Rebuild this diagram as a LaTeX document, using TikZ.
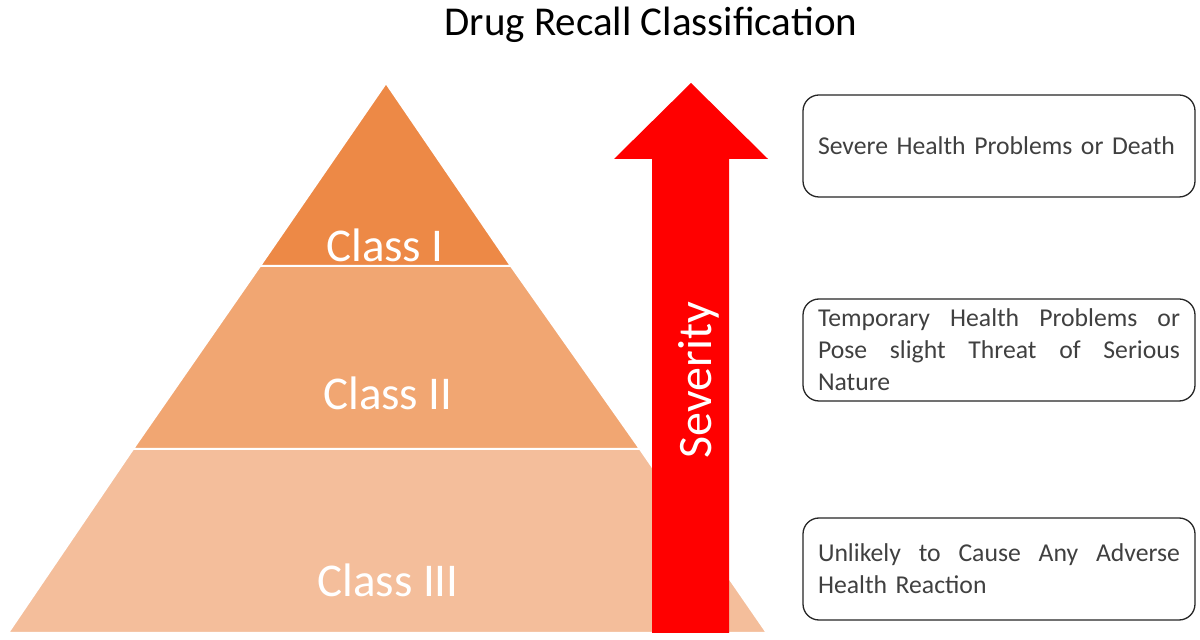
\documentclass[tikz,border=0pt]{standalone}
\usepackage{fontspec}
\setmainfont{Carlito}
\definecolor{layerone}{RGB}{237,137,70}
\definecolor{layertwo}{RGB}{241,166,114}
\definecolor{layerthree}{RGB}{244,190,155}
\definecolor{boxtext}{RGB}{64,64,64}
\newcommand{\jline}[1]{\makebox[362pt][s]{\spaceskip=0.23em plus 1fil\relax #1}}
\begin{document}
\begin{tikzpicture}[x=1pt,y=1pt,
  layer/.style={draw=white,line width=2pt,line join=miter},
  classlabel/.style={text=white,font=\fontsize{47}{56}\selectfont,anchor=base,inner sep=0pt},
  descbox/.style={draw=black!85,line width=1.3pt,rounded corners=16pt,minimum width=392pt,minimum height=102pt,
    text width=362pt,align=left,text=boxtext,font=\fontsize{25.7}{32}\selectfont,inner sep=0pt}]
\useasboundingbox (0,0) rectangle (1200,640);
\fill[white] (0,0) rectangle (1200,640);
% title
\node[anchor=base,font=\fontsize{41}{48}\selectfont,inner sep=0pt] (title) at (651,604) {Drug Recall Classification};
% pyramid layers
\filldraw[layer,fill=layerthree] (133,191) -- (8,7) -- (767,7) -- (640,191) -- cycle;
\filldraw[layer,fill=layertwo] (260,374) -- (133,191) -- (640,191) -- (511,374) -- cycle;
\filldraw[layer,fill=layerone] (386,557) -- (260,374) -- (511,374) -- cycle;
\node[classlabel] (c1) at (385,378) {Class I};
\node[classlabel] (c2) at (388,230) {Class II};
\node[classlabel] (c3) at (388,43) {Class III};
% severity arrow
\fill[red] (691,557) -- (768,481) -- (729,481) -- (729,7) -- (652,7) -- (652,481) -- (614,481) -- cycle;
\node[text=white,font=\fontsize{48}{56}\selectfont,rotate=90,anchor=base,inner sep=0pt] (sev) at (711,260) {Severity};
% description boxes
\node[descbox] (d1) at (999,494) {Severe Health Problems or Death};
\node[descbox] (d2) at (999,290) {\jline{Temporary Health Problems or}\\\jline{Pose slight Threat of Serious}\\Nature};
\node[descbox] (d3) at (999,71) {\jline{Unlikely to Cause Any Adverse}\\Health Reaction};
\end{tikzpicture}
\end{document}
